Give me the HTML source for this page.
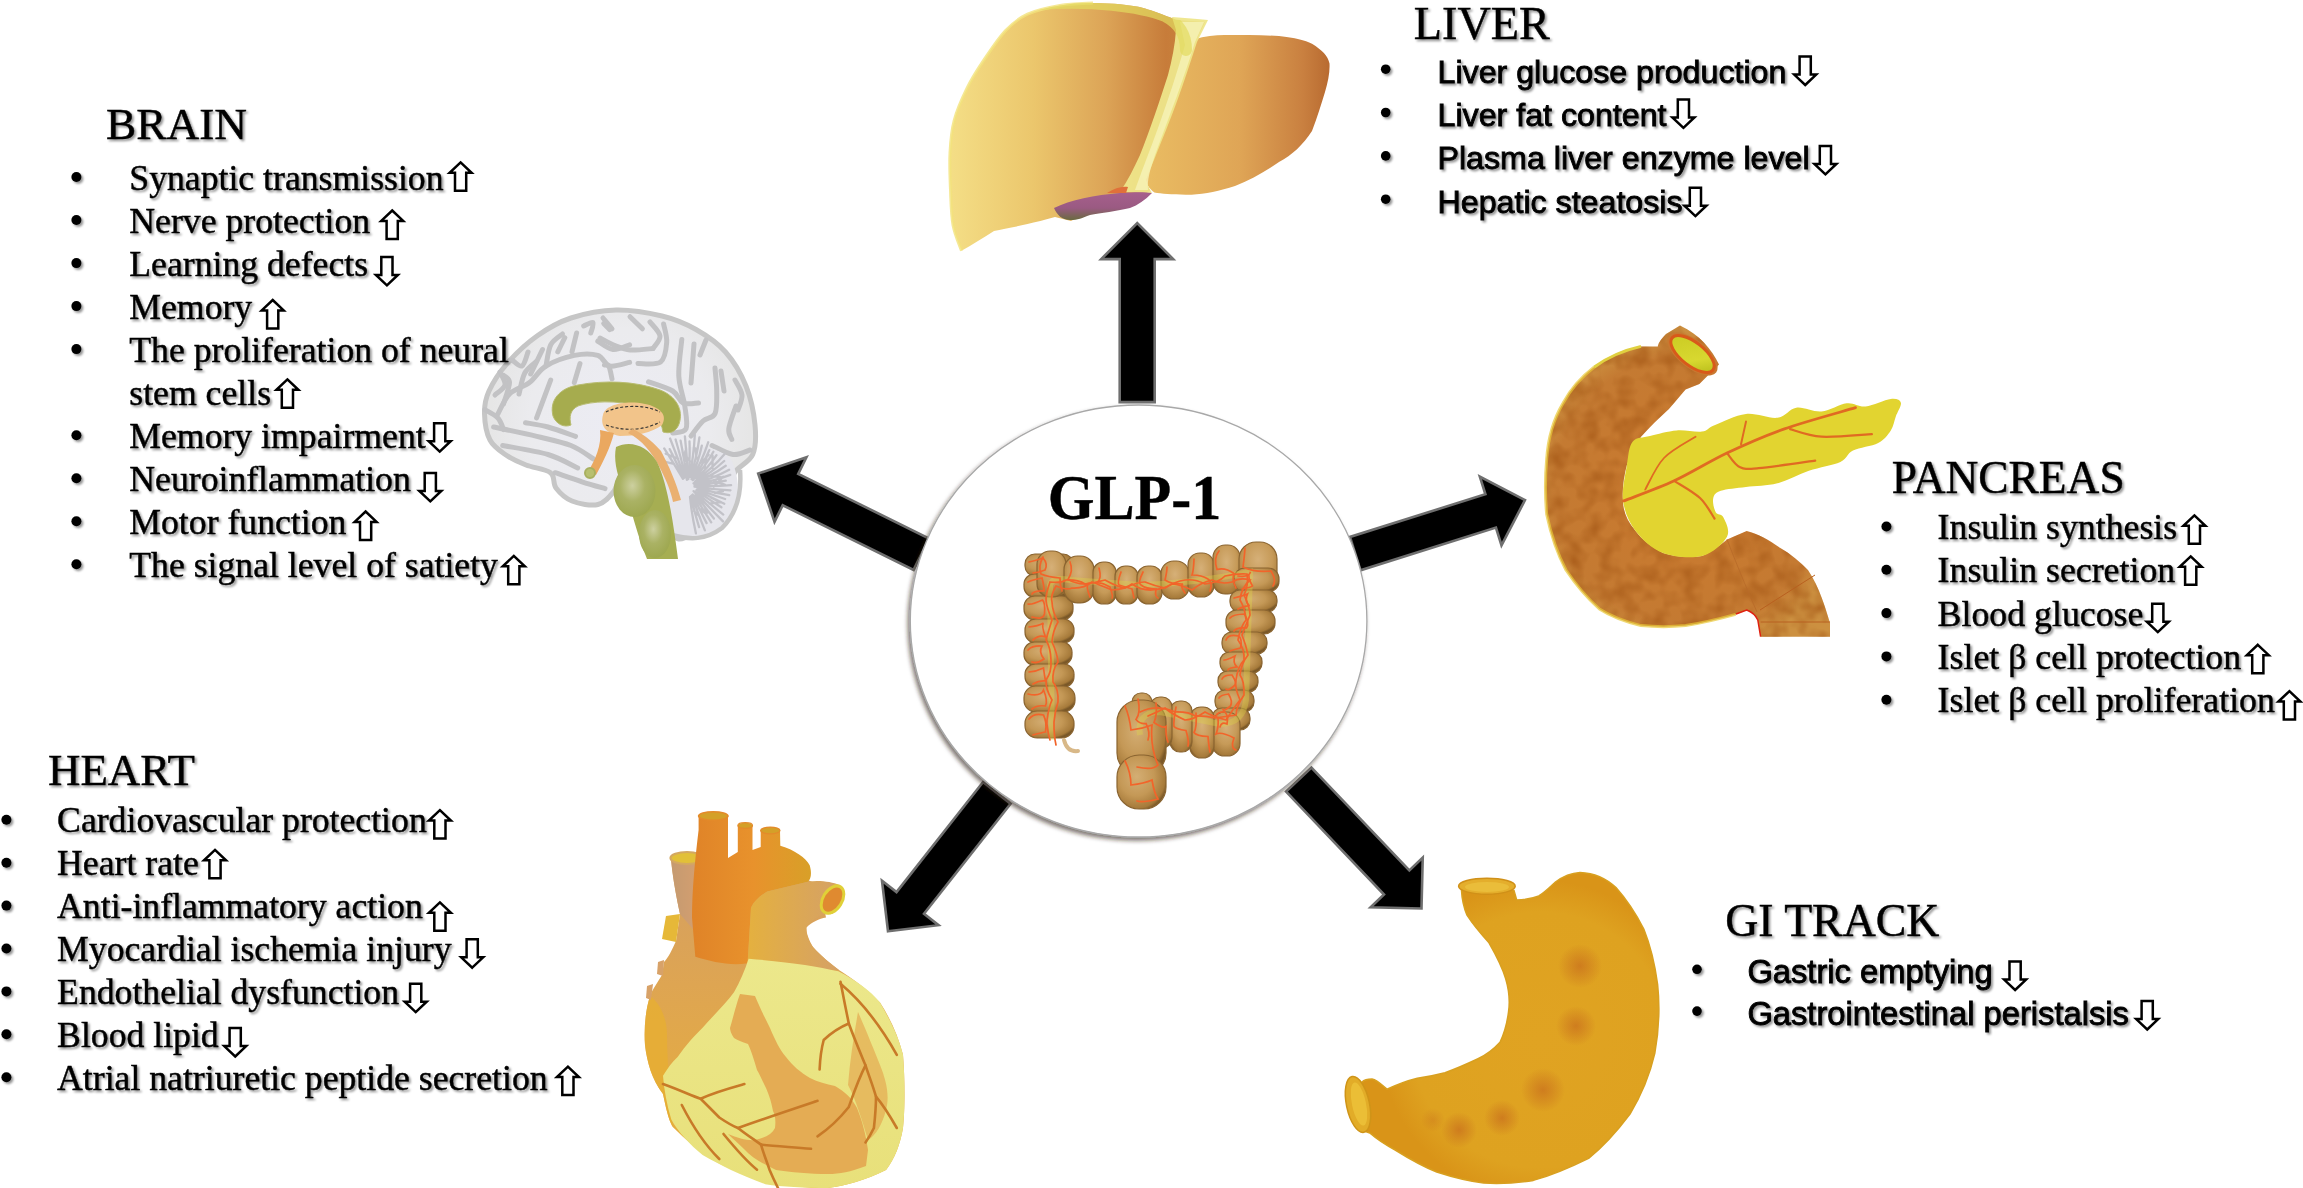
<!DOCTYPE html>
<html><head><meta charset="utf-8"><style>
html,body{margin:0;padding:0;background:#fff;width:2303px;height:1188px;overflow:hidden}
svg{position:absolute;left:0;top:0;display:block}
.sf{font-family:"Liberation Serif",serif;fill:#000;stroke:#000;stroke-width:0.45px}
.ss{font-family:"Liberation Sans",sans-serif;fill:#000;stroke:#000;stroke-width:0.9px}
.bul{fill:#000}
.ha{fill:#fff;stroke:#000;stroke-width:2.5;stroke-linejoin:miter}
.ba{fill:#000;stroke:#6f6f6f;stroke-width:2.6;stroke-linejoin:miter}
</style></head><body>
<svg width="2303" height="1188" viewBox="0 0 2303 1188">
<defs>
<filter id="tsh" x="-5%" y="-5%" width="110%" height="110%"><feDropShadow dx="1.9" dy="1.9" stdDeviation="0.8" flood-color="#000" flood-opacity="0.42"/></filter>
<filter id="csh" x="-10%" y="-10%" width="120%" height="120%"><feDropShadow dx="-2" dy="3" stdDeviation="2.2" flood-color="#2a1a10" flood-opacity="0.6"/></filter>
</defs>
<path transform="translate(1137.2,223.1) rotate(-90)" d="M0 0 L-36 -36 L-36 -17.5 L-179 -17.5 L-179 17.5 L-36 17.5 L-36 36 Z" class="ba"/><path transform="translate(758.2,473.6) rotate(206.3)" d="M0 0 L-36 -36 L-36 -17.5 L-182 -17.5 L-182 17.5 L-36 17.5 L-36 36 Z" class="ba"/><path transform="translate(1525,500.1) rotate(-17.5)" d="M0 0 L-36 -36 L-36 -17.5 L-178 -17.5 L-178 17.5 L-36 17.5 L-36 36 Z" class="ba"/><path transform="translate(888,931.2) rotate(128.2)" d="M0 0 L-36 -36 L-36 -17.5 L-176 -17.5 L-176 17.5 L-36 17.5 L-36 36 Z" class="ba"/><path transform="translate(1421.5,908.5) rotate(46.4)" d="M0 0 L-36 -36 L-36 -17.5 L-178 -17.5 L-178 17.5 L-36 17.5 L-36 36 Z" class="ba"/>
<ellipse cx="1138.6" cy="621" rx="228.3" ry="216" fill="#fff" stroke="#a8a8a8" stroke-width="1.3" filter="url(#csh)"/>
<g id="liver">
<defs>
<linearGradient id="lvL" x1="950" y1="0" x2="1190" y2="0" gradientUnits="userSpaceOnUse">
<stop offset="0" stop-color="#f4de86"/><stop offset="0.35" stop-color="#ebc66c"/><stop offset="0.65" stop-color="#dca457"/><stop offset="0.9" stop-color="#c77c3a"/><stop offset="1" stop-color="#c8843e"/>
</linearGradient>
<linearGradient id="lvR" x1="1150" y1="0" x2="1330" y2="0" gradientUnits="userSpaceOnUse">
<stop offset="0" stop-color="#e9bb62"/><stop offset="0.5" stop-color="#dfa556"/><stop offset="0.85" stop-color="#c98040"/><stop offset="1" stop-color="#b86a30"/>
</linearGradient>
<linearGradient id="lvP" x1="0" y1="190" x2="0" y2="220" gradientUnits="userSpaceOnUse">
<stop offset="0" stop-color="#a8608e"/><stop offset="0.6" stop-color="#9a5a82"/><stop offset="1" stop-color="#6a6a40"/>
</linearGradient>
<clipPath id="lvClip"><path d="M961.5 250.8 C960.1 246.5 954.8 235.1 953.0 225.0 C951.2 214.9 951.0 202.0 950.5 190.0 C950.0 178.0 949.4 164.6 950.0 153.0 C950.6 141.4 951.3 131.3 954.2 120.4 C957.1 109.5 962.5 97.5 967.4 87.5 C972.3 77.5 977.4 69.7 983.8 60.2 C990.2 50.7 998.3 38.3 1005.6 30.6 C1012.9 22.9 1018.4 18.4 1027.5 14.2 C1036.6 10.0 1049.1 7.4 1060.0 5.5 C1070.9 3.6 1080.2 2.8 1093.0 3.0 C1105.8 3.2 1123.2 3.8 1137.0 6.6 C1150.8 9.4 1169.5 17.5 1176.0 19.7 L1205 21.9 L1196 41.6 C1192 52 1189 60 1187 65.6 C1181 80 1175 95 1169.8 109.4 C1162 127 1155 140 1150 153 C1146 163 1142 170 1141 175 L1150 190.4 C1140 198 1130 205 1093 212 C1085 214 1078 217 1071 221 L1055 217 C1045 220 1035 222 1027.5 224 C1015 227 1003 229 994 231 C983 238 972 245 961.5 250.8 Z"/></clipPath>
</defs>
<path d="M961.5 250.8 C960.1 246.5 954.8 235.1 953.0 225.0 C951.2 214.9 951.0 202.0 950.5 190.0 C950.0 178.0 949.4 164.6 950.0 153.0 C950.6 141.4 951.3 131.3 954.2 120.4 C957.1 109.5 962.5 97.5 967.4 87.5 C972.3 77.5 977.4 69.7 983.8 60.2 C990.2 50.7 998.3 38.3 1005.6 30.6 C1012.9 22.9 1018.4 18.4 1027.5 14.2 C1036.6 10.0 1049.1 7.4 1060.0 5.5 C1070.9 3.6 1080.2 2.8 1093.0 3.0 C1105.8 3.2 1123.2 3.8 1137.0 6.6 C1150.8 9.4 1169.5 17.5 1176.0 19.7 L1205 21.9 L1196 41.6 C1192 52 1189 60 1187 65.6 C1181 80 1175 95 1169.8 109.4 C1162 127 1155 140 1150 153 C1146 163 1142 170 1141 175 L1150 190.4 C1140 198 1130 205 1093 212 C1085 214 1078 217 1071 221 L1055 217 C1045 220 1035 222 1027.5 224 C1015 227 1003 229 994 231 C983 238 972 245 961.5 250.8 Z" fill="url(#lvL)"/>
<path d="M1194 39.4 C1205 36 1215 35 1224.5 35 C1245 35 1262 35 1279 36 C1295 38 1305 40 1312 43.8 C1322 50 1328 56 1329.5 63.5 C1330 72 1328 82 1325 92 C1321 105 1317 118 1312 131 C1303 145 1292 155 1279 162 C1265 172 1250 180 1235 186 C1220 191 1205 194 1191.6 194.7 C1175 195 1162 194 1154.4 192.6 C1149 188 1146 184 1145.7 179.4 C1150 165 1154 152 1158.8 142 C1164 127 1170 112 1176 98.5 C1182 80 1188 60 1194 39.4 Z" fill="url(#lvR)"/>
<path d="M1172 17 C1185 18 1198 19 1208 20 L1197 42 C1188 70 1178 100 1168 125 C1158 150 1150 170 1146 180 C1148 186 1150 190 1152 193 L1120 192 C1128 180 1134 168 1140 155 C1150 130 1160 100 1168 75 C1172 60 1175 45 1176 30 Z" fill="#eee68a" opacity="0.95"/>
<path d="M1180 22 L1204 22 L1195 42 C1185 75 1170 115 1155 155 C1150 170 1147 180 1148 190 L1135 190 C1142 170 1150 150 1158 128 C1168 100 1178 70 1185 45 Z" fill="#f6f2b8" opacity="0.8"/>
<path d="M1054 208 C1070 200 1095 195 1120 193 C1135 192 1145 192 1152 193 C1145 200 1138 205 1130 208 C1118 211 1100 213 1090 215 C1082 218 1078 220 1070 220 C1062 220 1057 215 1054 208 Z" fill="url(#lvP)"/>
<path d="M1107 193 C1115 188 1122 186 1128 187 L1126 193 Z" fill="#e0703a"/>
<path d="M961.5 250.8 C960.1 246.5 954.8 235.1 953.0 225.0 C951.2 214.9 951.0 202.0 950.5 190.0 C950.0 178.0 949.4 164.6 950.0 153.0 C950.6 141.4 951.3 131.3 954.2 120.4 C957.1 109.5 962.5 97.5 967.4 87.5 C972.3 77.5 977.4 69.7 983.8 60.2 C990.2 50.7 998.3 38.3 1005.6 30.6 C1012.9 22.9 1018.4 18.4 1027.5 14.2 C1036.6 10.0 1049.1 7.4 1060.0 5.5 C1070.9 3.6 1087.5 3.4 1093.0 3.0" fill="none" stroke="#f2e27c" stroke-width="3" opacity="0.8"/>
<path clip-path="url(#lvClip)" d="M1040 4 C1090 0 1140 6 1165 16 C1180 24 1186 35 1186 50" fill="none" stroke="#e2dc60" stroke-width="12" stroke-linecap="round" opacity="0.7"/>

</g>
<g id="stomach">
<defs>
<radialGradient id="stG" cx="1540" cy="1040" r="160" gradientUnits="userSpaceOnUse">
<stop offset="0" stop-color="#e0a322"/><stop offset="0.8" stop-color="#dea220"/><stop offset="1" stop-color="#d99418"/>
</radialGradient>
<radialGradient id="spot"><stop offset="0" stop-color="#c4641c" stop-opacity="0.6"/><stop offset="1" stop-color="#c0601c" stop-opacity="0"/></radialGradient>
</defs>
<path d="M1461.5 890.4 C1462 900 1464 908 1467 915.2 C1474 926 1481 934 1489 942.8 C1496 955 1502 966 1505.7 978.8 C1509 990 1510 1002 1508.5 1012 C1507 1024 1504 1034 1500 1042.3 C1493 1050 1486 1055 1478 1058.8 C1467 1064 1456 1069 1445 1072.7 C1436 1075 1426 1077 1417.3 1078.2 C1406 1081 1396 1085 1387 1089.2 C1381 1084 1377 1080 1372 1079 C1368 1079 1364 1080 1362 1082 L1358 1128 C1362 1130 1367 1132 1370.4 1133.4 C1378 1140 1386 1145 1395.2 1150 C1408 1158 1422 1166 1436.7 1172 C1452 1177 1468 1181 1483.6 1183 C1500 1184 1517 1183 1533.3 1180.4 C1553 1175 1571 1167 1588.6 1158.3 C1604 1146 1618 1130 1630 1114 C1642 1094 1650 1074 1654.8 1053.3 C1659 1030 1660 1007 1657.6 984.3 C1655 965 1651 947 1643.8 929 C1636 914 1627 900 1616 887.6 C1606 878 1594 873 1580 872.4 C1570 873 1562 877 1555.4 882 C1550 887 1545 892 1538.8 896 C1531 899 1524 900 1516.7 900 L1514 890.4 Z" fill="url(#stG)" stroke="#d8a020" stroke-width="1.5"/>
<ellipse cx="1486.9" cy="886.2" rx="28.3" ry="8" fill="#e4ae2c" stroke="#d09018" stroke-width="1.5"/>
<ellipse cx="1487" cy="887" rx="22" ry="5" fill="#eabd3a"/>
<ellipse cx="1358" cy="1104.4" rx="11.5" ry="28.5" transform="rotate(-12 1358 1104.4)" fill="#e2ac28" stroke="#cf9418" stroke-width="1.5"/>
<ellipse cx="1359" cy="1104" rx="7" ry="22" transform="rotate(-12 1359 1104)" fill="#ebbe36"/>
<circle cx="1580" cy="966" r="22" fill="url(#spot)"/>
<circle cx="1576" cy="1026" r="20" fill="url(#spot)"/>
<circle cx="1543" cy="1090" r="22" fill="url(#spot)"/>
<circle cx="1502" cy="1118" r="18" fill="url(#spot)"/>
<circle cx="1459" cy="1130" r="18" fill="url(#spot)"/>
<circle cx="1433" cy="1120" r="12" fill="url(#spot)" opacity="0.5"/>
</g>
<g id="pancreas">
<defs>
<radialGradient id="pcB" cx="1690" cy="490" r="160" gradientUnits="userSpaceOnUse">
<stop offset="0.4" stop-color="#c87a30"/><stop offset="0.85" stop-color="#c47a32"/><stop offset="1" stop-color="#cc9040"/>
</radialGradient>
<linearGradient id="pcO" x1="1670" y1="335" x2="1715" y2="375" gradientUnits="userSpaceOnUse">
<stop offset="0" stop-color="#c8c820"/><stop offset="0.6" stop-color="#d8d830"/><stop offset="1" stop-color="#a8b010"/>
</linearGradient>
<filter id="pcTex" x="0" y="0" width="100%" height="100%" color-interpolation-filters="sRGB">
<feTurbulence type="fractalNoise" baseFrequency="0.06" numOctaves="2" seed="3" result="n"/>
<feColorMatrix in="n" type="matrix" values="0 0 0 0 0.66  0 0 0 0 0.36  0 0 0 0 0.1  0 0 0 1.6 -0.6" result="c"/>
<feComposite in="c" in2="SourceGraphic" operator="in" result="t"/>
<feMerge><feMergeNode in="SourceGraphic"/><feMergeNode in="t"/></feMerge>
</filter>
</defs>
<path d="M1666 333.9 C1660 340 1658 344 1657.8 346.4 L1641 346.4 C1625 350 1608 357 1594 367.2 C1580 378 1570 390 1563 403.3 C1553 420 1548 440 1546.7 458.9 C1545 478 1545 496 1546.7 514.4 C1551 535 1557 553 1566 570 C1576 585 1587 598 1599.4 608.9 C1612 617 1627 622 1641 625.6 C1656 627 1671 627 1685.6 625.6 C1702 623 1719 619 1735.6 614.4 L1746.7 610 C1752 612 1756 616 1757.8 620 L1760.6 636.7 L1830 636.7 L1830 622.8 C1827 614 1825 606 1821.7 597.8 C1818 588 1814 579 1808 570 C1800 562 1791 554 1780 547.8 C1769 540 1758 534 1746.7 531 L1727 539.4 C1718 547 1710 552 1702 556 C1689 558 1676 557 1663 553 C1652 547 1642 540 1635.6 531 C1627 521 1623 511 1623 500.5 C1622 488 1624 476 1627 464.4 C1631 455 1635 446 1641 436.7 C1650 427 1659 418 1669 409 L1685.6 389.4 L1699.4 384 L1719 364.4 C1712 350 1700 335 1680 325.6 Z" fill="url(#pcB)" filter="url(#pcTex)"/>
<path d="M1594 367.2 C1580 378 1570 390 1563 403.3 C1553 420 1548 440 1546.7 458.9 C1545 478 1545 496 1546.7 514.4 C1551 535 1557 553 1566 570 C1576 585 1587 598 1599.4 608.9 C1612 617 1627 622 1641 625.6 C1656 627 1671 627 1685.6 625.6 C1702 623 1719 619 1735.6 614.4" fill="none" stroke="#e8c838" stroke-width="3" opacity="0.7"/>
<path d="M1641 346.4 C1625 350 1608 357 1594 367.2" fill="none" stroke="#e0d040" stroke-width="3"/>
<path d="M1736 614 L1746.7 610 C1752 612 1756 616 1757.8 620 L1760.6 636.7" fill="none" stroke="#e02010" stroke-width="1.5"/>
<path d="M1760.6 622 L1830 622" stroke="#b86020" stroke-width="1" fill="none"/>
<path d="M1760 610 L1815 575" stroke="#b86020" stroke-width="1" fill="none"/>
<path d="M1727 539.4 C1735 560 1745 585 1757 612" stroke="#b86a28" stroke-width="0.8" fill="none"/>
<ellipse cx="1692.5" cy="354" rx="30" ry="14" transform="rotate(38 1692.5 354)" fill="#c87830"/><ellipse cx="1692.5" cy="354" rx="26" ry="11.5" transform="rotate(38 1692.5 354)" fill="url(#pcO)" stroke="#d85a1a" stroke-width="3"/>
<path d="M1632.6 441.7 C1636.4 437.0 1642.7 437.9 1650.0 436.0 C1657.3 434.1 1668.0 431.1 1676.7 430.4 C1685.4 429.7 1695.6 432.5 1701.9 431.6 C1708.2 430.8 1707.2 428.2 1714.5 425.3 C1721.8 422.4 1735.5 415.2 1746.0 414.0 C1756.5 412.8 1769.0 418.9 1777.4 417.8 C1785.8 416.8 1789.0 408.8 1796.3 407.7 C1803.6 406.6 1813.1 412.2 1821.5 411.5 C1829.9 410.8 1839.4 404.2 1846.7 403.3 C1854.0 402.4 1858.2 407.1 1865.6 406.4 C1872.9 405.7 1884.9 399.5 1890.8 398.9 C1896.7 398.3 1900.1 399.8 1900.9 402.7 C1901.7 405.6 1897.5 411.9 1895.8 416.5 C1894.1 421.1 1893.7 426.0 1890.8 430.4 C1887.9 434.8 1884.5 439.6 1878.2 443.0 C1871.9 446.4 1859.3 447.4 1853.0 450.5 C1846.7 453.6 1847.8 458.5 1840.4 461.9 C1833.1 465.3 1819.4 467.1 1808.9 470.7 C1798.4 474.3 1787.9 480.6 1777.4 483.3 C1766.9 486.0 1755.4 485.8 1746.0 487.0 C1736.6 488.2 1726.3 488.9 1720.8 490.8 C1715.3 492.7 1714.0 494.8 1713.2 498.4 C1712.4 502.0 1714.0 509.1 1715.7 512.2 C1717.4 515.4 1721.4 513.2 1723.3 517.3 C1725.2 521.4 1730.5 530.2 1727.0 536.7 C1723.5 543.2 1712.7 553.3 1702.0 556.0 C1691.3 558.7 1674.1 557.2 1663.0 553.0 C1651.9 548.8 1642.3 539.8 1635.6 531.0 C1628.9 522.2 1624.4 511.6 1623.0 500.5 C1621.6 489.4 1625.4 474.2 1627.0 464.4 C1628.6 454.6 1628.8 446.4 1632.6 441.7 Z" fill="#e2d430"/>
<g fill="none" stroke="#e06a22" stroke-linecap="round"><path d="M1623.8 500.9 C1632.2 497.5 1657.0 488.8 1674.2 480.8 C1691.4 472.8 1708.8 461.6 1727.0 453.0 C1745.2 444.4 1762.3 436.7 1783.7 429.1 C1805.1 421.6 1843.5 411.3 1855.5 407.7" stroke-width="2.8"/><path d="M1790.0 429.1 C1795.2 430.4 1807.8 435.9 1821.5 436.7 C1835.2 437.5 1863.5 434.6 1871.9 434.2" stroke-width="2.2"/><path d="M1727.0 453.0 C1729.1 455.3 1734.3 464.4 1739.6 466.9 C1744.8 469.4 1745.9 469.2 1758.5 468.2 C1771.1 467.1 1805.8 461.9 1815.2 460.6" stroke-width="2.2"/><path d="M1741.0 444.2 C1741.8 440.4 1745.2 425.4 1746.0 421.6" stroke-width="2.0"/><path d="M1674.2 480.8 C1678.5 483.7 1693.3 491.7 1700.0 498.0 C1706.7 504.3 1712.1 515.1 1714.5 518.5" stroke-width="2.2"/><path d="M1645.2 489.6 C1648.3 484.3 1655.6 466.8 1664.0 458.0 C1672.4 449.2 1690.3 440.2 1695.6 436.7" stroke-width="1.8"/></g>
</g>
<g id="heart">
<defs>
<linearGradient id="htBody" x1="0" y1="880" x2="0" y2="1180" gradientUnits="userSpaceOnUse">
<stop offset="0" stop-color="#d6a060"/><stop offset="0.35" stop-color="#dea552"/><stop offset="1" stop-color="#e8b038"/>
</linearGradient>
<linearGradient id="htAo" x1="695" y1="0" x2="812" y2="0" gradientUnits="userSpaceOnUse">
<stop offset="0" stop-color="#e08428"/><stop offset="0.5" stop-color="#e8922c"/><stop offset="1" stop-color="#d8a028"/>
</linearGradient>
<linearGradient id="htPul" x1="750" y1="0" x2="845" y2="0" gradientUnits="userSpaceOnUse">
<stop offset="0" stop-color="#e4b040"/><stop offset="1" stop-color="#d4a068"/>
</linearGradient>
<linearGradient id="htSvc" x1="670" y1="0" x2="705" y2="0" gradientUnits="userSpaceOnUse">
<stop offset="0" stop-color="#c49a70"/><stop offset="1" stop-color="#d8a070"/>
</linearGradient>
<linearGradient id="htYel" x1="0" y1="950" x2="0" y2="1188" gradientUnits="userSpaceOnUse">
<stop offset="0" stop-color="#ece88c"/><stop offset="1" stop-color="#e8e07a"/>
</linearGradient>
</defs>
<path d="M671 860 C673 880 677 900 680 914 L676 941 C672 950 668 958 664 962 L662 975 C658 982 653 988 650 996 C645 1012 644 1030 645 1045 C647 1062 652 1080 663 1094 C666 1108 668 1118 672.5 1126.7 C686 1140 698 1150 711.7 1159.4 C728 1168 744 1175 760.7 1179 C782 1186 804 1188 828 1188 C845 1186 866 1180 886 1170 C895 1158 900 1145 903 1128 C905 1110 905 1080 903 1054.8 C898 1035 890 1018 880 1002.6 C868 990 852 978 839 970 C830 963 820 955 813 947 C809 940 806 933 806.4 927.4 C812 922 819 919 826 917.6 L819.5 885 C810 880 800 878 790 878 L770 880 L735 875 L703 860 Z" fill="url(#htBody)"/>
<path d="M650 996 C645 1012 644 1030 645 1045 C647 1062 652 1080 663 1094 C666 1108 668 1118 672.5 1126.7 C671 1100 667 1065 667 1035 C667 1018 660 1003 650 996 Z" fill="#e6ae34" opacity="0.85"/>
<path d="M671 858 C673 880 677 900 680 914 L698 935 L704 858 Z" fill="url(#htSvc)"/>
<ellipse cx="687" cy="858" rx="16.5" ry="6" fill="#e2c038" stroke="#d4a860" stroke-width="2.2"/>
<path d="M680 914 L666 916 L662 939 L676 942 Z" fill="#e6b838"/>
<path d="M664 960 L658 962 L657 974 L663 976 Z" fill="#d8a268"/>
<path d="M653 984 L647 986 L646 998 L651 1000 Z" fill="#d8a268"/>
<path d="M698.6 816 L728 816 L728 858 L737.8 852 L737.8 825 L752.5 825 L752.5 850 L760.7 847 L760.7 830 L780 830 L780.3 845.7 C795 850 806 858 809.7 865.3 C812 873 811 879 808 881.7 L767.2 891.5 C760 896 754 901 751 907.8 L747.6 963.3 C730 966 712 962 695.3 956.8 L692 917.6 C692 890 695 860 698.6 830 Z" fill="url(#htAo)"/>
<ellipse cx="713.3" cy="816" rx="14.7" ry="4.2" fill="#d4a028" stroke="#e48a2a" stroke-width="1.6"/>
<ellipse cx="745.2" cy="825.5" rx="7.3" ry="2.8" fill="#d4a028" stroke="#e48a2a" stroke-width="1.2"/>
<ellipse cx="770.3" cy="830.5" rx="9.7" ry="3.4" fill="#d4a028" stroke="#e48a2a" stroke-width="1.2"/>
<path d="M747.6 963.3 L751 907.8 C754 901 760 896 767.2 891.5 L808 881.7 C820 880 832 882 839 885 C845 895 842 908 832 914 L822.7 914.3 C815 918 810 922 806.4 927.4 C806 935 809 942 813 947 C822 957 832 965 839 970 C810 968 780 965 747.6 963.3 Z" fill="url(#htPul)"/>
<ellipse cx="832.5" cy="899.6" rx="9.5" ry="15" transform="rotate(32 832.5 899.6)" fill="#e08a30" stroke="#e0d038" stroke-width="3"/>
<path d="M748.6 958.8 C790 962 815 966 838.4 971.3 C855 980 870 990 880 1002.6 C890 1020 898 1035 903 1054.8 C905 1080 905 1110 903 1128 C900 1145 895 1158 886.4 1169.7 C866 1180 845 1186 828 1188 C804 1188 782 1187 765.3 1184.3 C740 1175 720 1165 702.6 1155 C690 1145 678 1132 671.3 1119.6 C667 1105 664 1090 663 1075.7 C668 1068 672 1062 677.6 1057 C686 1045 694 1036 702.6 1027.7 C714 1015 726 1003 734 992.2 C740 982 745 970 748.6 958.8 Z" fill="url(#htYel)"/>
<path d="M740 994 L755 996 C760 1008 765 1018 770 1028 C775 1040 780 1050 786 1057 C793 1066 800 1072 810 1078 C818 1082 826 1084 835 1086 C845 1092 852 1098 857 1108 C862 1120 866 1135 868 1150 L866 1166 C850 1172 840 1174 828 1174 C810 1174 790 1172 776 1170 C765 1165 752 1158 744 1149 C738 1143 732 1138 728 1134 C738 1138 748 1141 755 1140 C765 1138 772 1134 775 1128 C776 1120 775 1115 773 1111 C771 1100 768 1092 765 1086 C762 1080 760 1075 757 1070 C754 1060 751 1050 748 1044 C742 1042 737 1040 734 1038 C731 1034 730 1030 730 1028 C733 1018 736 1005 740 994 Z" fill="#e4ac54"/>
<path d="M858 1012 C866 1030 874 1050 880 1065 C886 1080 890 1095 886 1110 C882 1125 876 1135 868 1140 C862 1120 856 1100 848 1085 C850 1060 854 1035 858 1012 Z" fill="#e4ae54" opacity="0.75"/>

<g fill="none" stroke="#c87a28" stroke-width="2.6" stroke-linecap="round" stroke-linejoin="round">
<path d="M663 1084 C680 1090 692 1096 700.6 1098.7 C708 1106 714 1112 719.3 1117.5 C726 1122 732 1126 738 1128 C748 1136 755 1140 761 1144.6 C764 1155 767 1162 769.5 1169.7 C773 1178 776 1184 778 1188"/>
<path d="M700.6 1098.7 C715 1092 730 1088 744.4 1084"/>
<path d="M681.8 1105 C692 1125 705 1145 719.3 1159"/>
<path d="M738 1128 C760 1120 790 1110 817.5 1100.8"/>
<path d="M761 1144.6 C775 1146 790 1147 811 1148.8"/>
<path d="M723.5 1134 C735 1148 745 1160 757 1169.7"/>
<path d="M840.5 981.8 C843 995 846 1010 848.8 1023.5 C854 1038 860 1052 865.5 1065.3 C869 1076 873 1086 876 1096.6 C876 1108 875 1118 873.9 1128 C871 1134 868 1139 865.5 1142.5"/>
<path d="M848.8 1023.5 C838 1028 830 1034 823.7 1040 C821 1050 820 1060 819.6 1069.5"/>
<path d="M840.5 983.8 C860 1000 880 1025 896.8 1054.8"/>
<path d="M865.5 1065.3 C858 1080 853 1095 848.8 1107 C840 1118 830 1128 817.5 1136.3"/>
<path d="M876 1096.6 C884 1106 890 1116 896.8 1128"/>
</g>
</g>
<g id="brain">
<defs><radialGradient id="bsG" cx="0.45" cy="0.4" r="0.6"><stop offset="0" stop-color="#cdd0a0"/><stop offset="0.5" stop-color="#aab264"/><stop offset="1" stop-color="#9ea850"/></radialGradient>
<radialGradient id="brIn" cx="620" cy="420" r="130" gradientUnits="userSpaceOnUse"><stop offset="0" stop-color="#ececf4"/><stop offset="0.7" stop-color="#ebebee"/><stop offset="1" stop-color="#e6e6e6"/></radialGradient></defs>
<path d="M484.5 413.6 C484.3 405.4 485.2 399.3 489.0 391.0 C492.8 382.7 499.0 372.8 507.0 363.6 C515.0 354.4 526.3 343.6 537.0 336.0 C547.7 328.4 557.8 322.3 571.0 318.0 C584.2 313.7 600.8 310.3 616.0 310.0 C631.2 309.7 648.7 312.8 662.0 316.0 C675.3 319.2 685.4 323.5 696.0 329.5 C706.6 335.5 717.2 342.6 725.5 352.0 C733.8 361.4 741.1 373.8 746.0 386.0 C750.9 398.2 753.9 413.6 755.0 425.0 C756.1 436.4 756.1 446.6 752.7 454.5 C749.3 462.4 737.8 466.8 734.5 472.7 C731.2 478.6 734.1 483.8 733.0 490.0 C731.9 496.2 731.5 503.8 728.0 510.0 C724.5 516.2 718.3 522.7 712.0 527.0 C705.7 531.3 696.7 535.0 690.0 536.0 C683.3 537.0 678.7 544.0 672.0 533.0 C665.3 522.0 657.8 480.5 650.0 470.0 C642.2 459.5 631.0 466.5 625.0 470.0 C619.0 473.5 618.5 485.2 614.0 491.0 C609.5 496.8 605.0 502.8 598.0 504.5 C591.0 506.2 579.0 503.8 572.0 501.0 C565.0 498.2 559.6 492.7 556.0 488.0 C552.4 483.3 555.5 476.5 550.5 472.7 C545.5 468.9 533.4 467.9 526.0 465.0 C518.6 462.1 512.0 459.2 506.0 455.0 C500.0 450.8 493.6 446.9 490.0 440.0 C486.4 433.1 484.7 421.8 484.5 413.6 Z" fill="url(#brIn)" stroke="#c6c6c6" stroke-width="5"/>
<g fill="none" stroke="#c2c2c4" stroke-width="5" stroke-linecap="round" stroke-linejoin="round">
<path d="M600.0 338.0 C602.5 339.2 610.0 343.5 615.0 345.5 C620.0 347.5 623.7 349.5 630.0 350.0 C636.3 350.5 649.2 348.8 653.0 348.5"/>
<path d="M604.5 365.0 C605.2 365.3 607.8 364.4 609.0 366.7 C610.2 369.0 611.5 376.8 612.0 378.8"/>
<path d="M638.0 363.6 C641.8 363.3 655.8 365.5 660.6 362.0 C665.4 358.5 666.2 348.7 666.7 342.4 C667.2 336.1 664.1 327.1 663.6 324.0"/>
<path d="M681.8 339.4 C681.3 345.5 678.3 364.7 678.8 375.8 C679.3 386.9 683.6 397.2 684.8 406.0 C686.0 414.8 688.0 424.3 686.0 428.8 C684.0 433.3 674.9 432.3 672.7 433.0"/>
<path d="M694.0 344.0 C693.5 350.5 691.5 376.5 691.0 383.0"/>
<path d="M715.0 368.0 C715.3 371.8 716.7 383.4 716.7 391.0 C716.7 398.6 717.3 408.6 715.0 413.6 C712.7 418.6 707.0 417.3 703.0 421.0 C699.0 424.7 693.0 433.5 691.0 436.0"/>
<path d="M721.0 371.0 C721.5 374.3 723.5 387.7 724.0 391.0"/>
<path d="M736.0 406.0 C734.8 409.8 729.5 423.2 728.8 428.8 C728.1 434.4 731.3 437.6 731.8 439.4"/>
<path d="M712.0 445.5 C715.5 447.0 726.7 453.8 733.0 454.5 C739.3 455.2 747.2 450.8 750.0 450.0"/>
<path d="M648.5 381.8 C652.5 383.3 667.0 387.5 672.7 391.0 C678.5 394.5 678.7 401.0 683.0 403.0 C687.3 405.0 695.9 403.0 698.5 403.0"/>
<path d="M603.0 318.0 C604.5 319.8 610.5 327.0 612.0 328.8"/>
<path d="M630.0 316.7 C632.1 318.7 640.3 326.8 642.4 328.8"/>
<path d="M497.7 414.3 C499.7 410.9 504.2 399.3 509.5 394.0 C514.8 388.7 523.4 387.2 529.5 382.5 C535.6 377.8 538.5 370.5 546.0 366.0 C553.5 361.5 565.7 357.2 574.3 355.4 C582.9 353.6 591.9 353.6 597.8 355.4 C603.7 357.2 604.3 364.8 609.6 366.0 C614.9 367.2 626.3 363.0 629.6 362.4"/>
<path d="M503.6 403.7 C504.6 400.2 509.5 387.2 509.5 382.5 C509.5 377.8 504.6 376.6 503.6 375.4"/>
<path d="M519.0 394.0 C520.0 390.5 521.9 378.4 524.8 373.0 C527.7 367.6 534.6 363.2 536.6 361.3"/>
<path d="M530.7 374.0 C532.7 369.9 540.5 353.6 542.5 349.5"/>
<path d="M546.0 366.0 C546.8 362.5 548.0 350.1 550.7 344.8 C553.5 339.5 560.5 335.8 562.5 334.0"/>
<path d="M557.8 351.8 C559.0 349.4 563.6 340.1 564.8 337.7"/>
<path d="M572.0 351.8 C572.8 348.7 575.8 336.1 576.6 333.0"/>
<path d="M583.7 326.0 C585.2 325.4 591.8 321.2 593.0 322.4 C594.2 323.6 591.2 331.2 590.8 333.0"/>
<path d="M603.7 323.6 C604.7 324.6 608.6 328.5 609.6 329.5"/>
<path d="M597.8 341.2 C600.3 342.6 607.7 348.9 613.0 349.5 C618.3 350.1 626.8 345.6 629.6 344.8"/>
<path d="M580.0 363.6 C579.0 366.8 575.2 379.4 574.3 382.5"/>
<path d="M550.7 380.0 C548.4 386.3 539.0 411.5 536.6 417.8"/>
<path d="M484.7 409.6 C486.9 411.0 494.5 414.5 497.7 417.8 C500.9 421.1 502.6 427.6 503.6 429.6"/>
<path d="M493.6 427.0 C500.8 428.6 523.9 433.3 536.8 436.4 C549.7 439.5 561.5 441.7 571.0 445.5 C580.5 449.3 589.8 456.8 593.6 459.0"/>
<path d="M502.7 445.5 C510.2 447.0 535.5 450.8 548.0 454.5 C560.5 458.2 572.8 465.8 577.7 468.0"/>
<path d="M555.0 472.7 C559.5 474.2 573.7 479.1 582.0 481.8 C590.3 484.5 601.2 487.5 605.0 488.6"/>
<path d="M525.5 422.7 C529.2 423.4 539.7 424.7 548.0 427.0 C556.3 429.3 570.9 434.8 575.5 436.4"/>
<path d="M495.0 395.0 C496.7 393.3 504.2 388.8 505.0 385.0 C505.8 381.2 500.8 374.2 500.0 372.0"/>
<path d="M512.0 360.0 C513.7 361.0 519.3 367.3 522.0 366.0 C524.7 364.7 527.0 354.3 528.0 352.0"/>
<path d="M653.0 348.5 C654.2 346.4 660.5 340.4 660.0 336.0 C659.5 331.6 651.7 324.3 650.0 322.0"/>
<path d="M735.0 380.0 C736.2 382.5 741.5 390.0 742.0 395.0 C742.5 400.0 738.7 407.5 738.0 410.0"/>
<path d="M700.0 355.0 C701.0 352.5 705.0 342.5 706.0 340.0"/>
</g>
<path d="M660 470 C668 445 705 438 730 458 C742 478 740 510 725 528 C708 542 680 542 668 530 C660 515 658 490 660 470 Z" fill="#e6e6ec"/>
<path d="M683.0 478.8 Q674.0 463.8 664.2 448.4 M674.0 463.8 L663.1 461.4 M682.6 476.2 Q676.8 462.9 669.7 449.1 M684.5 477.7 Q678.2 458.7 670.1 438.5 M678.2 458.7 L665.7 453.7 M685.4 477.1 Q681.5 459.0 675.6 439.5 M686.9 479.9 Q684.8 461.2 680.6 440.7 M684.8 461.2 L685.3 451.1 M687.4 477.3 Q687.4 458.0 684.9 436.5 M688.3 479.1 Q690.2 461.4 689.5 441.5 M690.2 461.4 L682.7 452.5 M689.3 477.1 Q693.7 457.4 694.8 434.9 M690.4 476.8 Q696.6 458.7 699.4 437.5 M696.6 458.7 L695.5 448.5 M691.7 476.2 Q698.3 462.4 701.8 445.7 M691.5 479.1 Q701.6 462.4 708.2 442.3 M701.6 462.4 L708.6 454.8 M692.7 478.9 Q702.5 466.0 709.3 450.1 M692.8 480.1 Q704.7 467.6 713.4 451.8 M704.7 467.6 L706.4 457.8 M695.8 478.4 Q707.8 468.5 716.5 455.1 M696.9 479.0 Q712.5 468.6 724.4 454.3 M712.5 468.6 L712.6 455.7 M695.0 481.6 Q711.2 473.1 724.2 461.0 M693.5 483.3 Q711.2 476.2 725.8 465.8 M711.2 476.2 L722.3 477.3 M694.3 483.8 Q713.2 478.4 729.1 469.8 M694.5 484.4 Q713.8 481.2 730.3 474.9 M713.8 481.2 L724.6 484.7 M695.2 485.1 Q711.6 484.2 725.8 480.7 M694.5 485.9 Q713.9 486.8 731.1 485.2 M713.9 486.8 L723.1 476.7 M694.5 486.6 Q713.5 489.6 730.5 490.3 M699.3 488.3 Q715.0 492.9 729.2 495.2 M715.0 492.9 L723.0 491.2 M697.4 489.0 Q711.8 494.9 725.1 499.0 M696.7 489.8 Q710.9 497.5 724.3 503.7 M710.9 497.5 L717.8 501.1 M698.2 491.9 Q710.0 500.2 721.4 507.3 M695.5 491.5 Q709.5 503.5 723.3 514.6 M709.5 503.5 L721.1 502.2 M693.6 491.1 Q708.3 506.4 723.0 521.4 M695.9 495.0 Q704.6 506.8 713.9 518.5 M704.6 506.8 L707.2 512.8 M694.7 495.6 Q702.5 508.8 711.2 522.4 M692.7 494.5 Q699.0 508.5 706.6 523.1 M699.0 508.5 L705.5 513.2 M691.9 495.3 Q697.5 512.3 704.9 530.4 M691.0 496.2 Q694.1 511.0 699.1 527.1 M694.1 511.0 L699.7 516.5 M690.0 497.0 Q691.7 514.3 695.9 533.3" fill="none" stroke="#c2c2c8" stroke-width="2.3" stroke-linecap="round"/>
<path d="M740 470 C742 495 735 515 722 528 C706 540 690 540 672 535" fill="none" stroke="#c6c6c6" stroke-width="4.5"/>
<!-- corpus callosum -->
<path d="M553 416 C549 400 560 388 578 385 C605 380 635 381 660 390 C676 396 684 410 679 424 C676 432 670 434 663 432 C661 420 655 410 640 406 C615 400 592 401 578 406 C570 410 569 417 571 425 C564 428 556 424 553 416 Z" fill="#a6ac4e" stroke="#b8bc70" stroke-width="1"/>
<path d="M603 415 C605 405 625 400 645 404 C660 407 668 415 662 425 C652 433 635 436 620 436 C605 433 600 425 603 415 Z" fill="#f2c48a"/>
<path d="M606 412 C620 405 645 404 660 412" fill="none" stroke="#333" stroke-width="1.1" stroke-dasharray="3,2"/>
<path d="M606 425 C625 432 645 430 660 422" fill="none" stroke="#333" stroke-width="1.1" stroke-dasharray="3,2"/>
<path d="M600 430 C602 445 595 460 588 472 L596 475 C604 460 610 448 614 433 Z" fill="#eaa860"/>
<path d="M628 433 C642 440 652 452 661 470 C667 482 671 492 673 502 L681 500 C676 482 669 466 661 451 C651 440 641 432 632 429 Z" fill="#eab070"/>
<circle cx="590" cy="473" r="5" fill="#b8c070" stroke="#a8b060" stroke-width="2"/>
<path d="M616 447 C630 440 647 445 657 462 C667 482 673 520 678 559 L647 559 C639 540 634 520 628 500 C618 480 613 462 616 447 Z" fill="#a6ae52"/>
<ellipse cx="634.5" cy="491" rx="21" ry="26" fill="url(#bsG)"/>
<ellipse cx="655" cy="534" rx="16" ry="24" fill="url(#bsG)"/>
</g><g id="colon"><defs>
<radialGradient id="cSeg" cx="0.4" cy="0.4" r="0.65"><stop offset="0" stop-color="#d4ae74"/><stop offset="0.55" stop-color="#c49856"/><stop offset="0.9" stop-color="#a67a3a"/><stop offset="1" stop-color="#7a5828"/></radialGradient>
<radialGradient id="cSegH" cx="0.5" cy="0.35" r="0.7"><stop offset="0" stop-color="#d6b078"/><stop offset="0.55" stop-color="#c69a58"/><stop offset="0.9" stop-color="#a67a3a"/><stop offset="1" stop-color="#7a5828"/></radialGradient>
</defs>
<rect x="1025" y="554" width="48" height="22" rx="9.9" ry="9.9" fill="url(#cSeg)" stroke="#8a6430" stroke-width="1.2"/>
<rect x="1024" y="574" width="48" height="23" rx="10.3" ry="10.3" fill="url(#cSeg)" stroke="#8a6430" stroke-width="1.2"/>
<rect x="1024" y="596" width="49" height="24" rx="10.8" ry="10.8" fill="url(#cSeg)" stroke="#8a6430" stroke-width="1.2"/>
<rect x="1025" y="619" width="49" height="24" rx="10.8" ry="10.8" fill="url(#cSeg)" stroke="#8a6430" stroke-width="1.2"/>
<rect x="1024" y="642" width="48" height="23" rx="10.3" ry="10.3" fill="url(#cSeg)" stroke="#8a6430" stroke-width="1.2"/>
<rect x="1025" y="664" width="49" height="23" rx="10.3" ry="10.3" fill="url(#cSeg)" stroke="#8a6430" stroke-width="1.2"/>
<rect x="1024" y="686" width="51" height="26" rx="11.7" ry="11.7" fill="url(#cSeg)" stroke="#8a6430" stroke-width="1.2"/>
<rect x="1025" y="711" width="49" height="27" rx="12.2" ry="12.2" fill="url(#cSeg)" stroke="#8a6430" stroke-width="1.2"/>
<rect x="1037" y="551" width="29" height="46" rx="13.1" ry="13.1" fill="url(#cSegH)" stroke="#8a6430" stroke-width="1.2"/>
<rect x="1064" y="556" width="30" height="47" rx="13.5" ry="13.5" fill="url(#cSegH)" stroke="#8a6430" stroke-width="1.2"/>
<rect x="1093" y="562" width="23" height="42" rx="10.3" ry="10.3" fill="url(#cSegH)" stroke="#8a6430" stroke-width="1.2"/>
<rect x="1115" y="566" width="23" height="38" rx="10.3" ry="10.3" fill="url(#cSegH)" stroke="#8a6430" stroke-width="1.2"/>
<rect x="1137" y="566" width="25" height="38" rx="11.2" ry="11.2" fill="url(#cSegH)" stroke="#8a6430" stroke-width="1.2"/>
<rect x="1161" y="561" width="28" height="38" rx="12.6" ry="12.6" fill="url(#cSegH)" stroke="#8a6430" stroke-width="1.2"/>
<rect x="1188" y="553" width="26" height="44" rx="11.7" ry="11.7" fill="url(#cSegH)" stroke="#8a6430" stroke-width="1.2"/>
<rect x="1213" y="545" width="27" height="49" rx="12.2" ry="12.2" fill="url(#cSegH)" stroke="#8a6430" stroke-width="1.2"/>
<rect x="1239" y="542" width="38" height="50" rx="17.1" ry="17.1" fill="url(#cSegH)" stroke="#8a6430" stroke-width="1.2"/>
<rect x="1234" y="568" width="45" height="24" rx="10.8" ry="10.8" fill="url(#cSeg)" stroke="#8a6430" stroke-width="1.2"/>
<rect x="1230" y="590" width="47" height="22" rx="9.9" ry="9.9" fill="url(#cSeg)" stroke="#8a6430" stroke-width="1.2"/>
<rect x="1226" y="610" width="49" height="24" rx="10.8" ry="10.8" fill="url(#cSeg)" stroke="#8a6430" stroke-width="1.2"/>
<rect x="1222" y="632" width="45" height="22" rx="9.9" ry="9.9" fill="url(#cSeg)" stroke="#8a6430" stroke-width="1.2"/>
<rect x="1220" y="652" width="42" height="21" rx="9.5" ry="9.5" fill="url(#cSeg)" stroke="#8a6430" stroke-width="1.2"/>
<rect x="1218" y="671" width="40" height="21" rx="9.5" ry="9.5" fill="url(#cSeg)" stroke="#8a6430" stroke-width="1.2"/>
<rect x="1215" y="690" width="39" height="22" rx="9.9" ry="9.9" fill="url(#cSeg)" stroke="#8a6430" stroke-width="1.2"/>
<rect x="1212" y="708" width="38" height="22" rx="9.9" ry="9.9" fill="url(#cSeg)" stroke="#8a6430" stroke-width="1.2"/>
<rect x="1212" y="712" width="28" height="44" rx="12.6" ry="12.6" fill="url(#cSegH)" stroke="#8a6430" stroke-width="1.2"/>
<rect x="1190" y="707" width="24" height="51" rx="10.8" ry="10.8" fill="url(#cSegH)" stroke="#8a6430" stroke-width="1.2"/>
<rect x="1170" y="701" width="22" height="51" rx="9.9" ry="9.9" fill="url(#cSegH)" stroke="#8a6430" stroke-width="1.2"/>
<rect x="1150" y="697" width="22" height="51" rx="9.9" ry="9.9" fill="url(#cSegH)" stroke="#8a6430" stroke-width="1.2"/>
<rect x="1132" y="693" width="20" height="53" rx="9.0" ry="9.0" fill="url(#cSegH)" stroke="#8a6430" stroke-width="1.2"/>
<rect x="1117" y="700" width="49" height="75" rx="22.1" ry="22.1" fill="url(#cSeg)" stroke="#8a6430" stroke-width="1.2"/>
<rect x="1117" y="755" width="49" height="54" rx="22.1" ry="22.1" fill="url(#cSeg)" stroke="#8a6430" stroke-width="1.2"/>
<path d="M1052 740 L1050 585 C1052 578 1060 578 1070 580 L1140 585 C1180 584 1220 578 1250 572 L1246 700 C1244 716 1236 724 1220 724 L1160 712 C1142 712 1138 722 1140 735" fill="none" stroke="#e0d848" stroke-width="6" opacity="0.35"/>
<g fill="none" stroke="#f2642a" stroke-width="1.7" stroke-linecap="round">
<path d="M1050 740 Q1046.4 726.8 1047 720 Q1048.7 707.2 1052 700 Q1045.5 689.2 1046 680 Q1051.8 672.4 1051 660 Q1050.6 647.8 1046 640 Q1049.3 628.2 1052 620 Q1046.4 606.8 1046 600 Q1045.7 594.4 1050 582 Q1060.6 583.5 1066 580 Q1077.9 579.5 1085 584 Q1093.5 583.0 1105 580 Q1116.9 586.8 1125 588 Q1138.0 581.7 1145 582 Q1155.8 586.4 1165 588 Q1175.0 581.4 1185 580 Q1194.8 578.7 1205 584 Q1218.5 582.9 1225 576 Q1236.4 573.4 1247 574 Q1248.8 585.1 1244 595 Q1250.1 607.8 1250 615 Q1246.1 624.3 1242 635 Q1245.8 644.4 1248 655 Q1241.3 663.4 1240 675 Q1244.5 681.3 1244 695 Q1236.4 706.0 1236 715 Q1223.7 716.8 1215 718 Q1204.8 715.7 1195 716 Q1189.0 711.6 1175 712 Q1164.3 707.6 1155 708 Q1148.6 708.2 1140 712"/>
<path d="M1056 745 Q1053.8 735.5 1054 722 Q1054.6 712.5 1058 702 Q1058.7 688.8 1053 682 Q1052.0 669.8 1058 662 Q1057.1 652.9 1052 642 Q1052.9 630.6 1058 622 Q1052.4 611.7 1052 602 Q1050.3 595.6 1056 586 Q1067.2 590.6 1072 588 Q1083.9 588.7 1092 582 Q1098.1 584.3 1112 590 Q1125.7 589.2 1132 584 Q1141.3 590.5 1152 590 Q1163.0 589.5 1172 584 Q1180.3 584.5 1192 590 Q1201.6 582.1 1212 580 Q1221.1 584.7 1232 582 Q1239.7 577.1 1250 580 Q1241.4 587.4 1240 600 Q1245.3 608.9 1246 620 Q1240.3 626.8 1238 640 Q1244.9 649.4 1244 660 Q1237.7 666.5 1236 680 Q1234.4 687.3 1240 700 Q1234.4 707.2 1226 720 Q1211.8 715.9 1205 712 Q1193.0 720.0 1185 720 Q1172.0 714.2 1165 708 Q1158.7 711.3 1148 716"/>
<path d="M1029 562 Q1035.5 560.6 1043.0 558 Q1048.2 563.7 1045.0 570 Q1039.1 572.4 1033 573"/>
<path d="M1028 582 Q1031.8 580.1 1042.0 578 Q1044.3 587.4 1044.0 591 Q1033.9 590.5 1032 594"/>
<path d="M1028 604 Q1031.2 605.1 1042.5 600 Q1045.4 602.4 1044.5 614 Q1043.1 620.1 1032 617"/>
<path d="M1029 627 Q1037.8 626.2 1043.5 623 Q1041.1 625.2 1045.5 637 Q1039.5 634.1 1033 640"/>
<path d="M1028 650 Q1031.9 645.4 1042.0 646 Q1038.3 652.1 1044.0 659 Q1037.4 663.9 1032 662"/>
<path d="M1029 672 Q1036.4 671.4 1043.5 668 Q1044.5 676.1 1045.5 681 Q1038.8 680.3 1033 684"/>
<path d="M1028 694 Q1040.7 697.0 1043.5 690 Q1047.9 700.1 1045.5 706 Q1036.9 704.8 1032 709"/>
<path d="M1029 719 Q1034.1 712.7 1043.5 715 Q1047.2 722.5 1045.5 732 Q1042.7 732.4 1033 735"/>
<path d="M1238 576 Q1248.8 577.5 1250.5 572 Q1246.5 576.1 1252.5 586 Q1251.4 587.2 1242 589"/>
<path d="M1234 598 Q1245.6 595.0 1247.5 594 Q1244.2 601.3 1249.5 606 Q1246.5 605.2 1238 609"/>
<path d="M1230 618 Q1233.1 614.3 1244.5 614 Q1250.1 623.6 1246.5 628 Q1236.4 627.0 1234 631"/>
<path d="M1226 640 Q1228.3 633.6 1238.5 636 Q1242.5 638.8 1240.5 648 Q1235.8 649.0 1230 651"/>
<path d="M1224 660 Q1226.4 660.3 1235.0 656 Q1232.3 662.9 1237.0 667 Q1228.7 667.7 1228 670"/>
<path d="M1222 679 Q1224.1 674.7 1232.0 675 Q1237.7 683.5 1234.0 686 Q1228.0 691.3 1226 689"/>
<path d="M1219 698 Q1220.9 694.9 1228.5 694 Q1233.0 701.4 1230.5 706 Q1222.8 712.4 1223 709"/>
<path d="M1216 716 Q1217.6 711.6 1225.0 712 Q1228.7 716.3 1227.0 724 Q1221.5 721.2 1220 727"/>
<path d="M1043 557 Q1037.9 566.3 1041 574.0 Q1047.9 577.0 1060 578.0 Q1059.7 584.0 1062 591"/>
<path d="M1070 562 Q1073.6 570.6 1068 579.5 Q1078.7 585.2 1088 583.5 Q1085.8 586.8 1090 597"/>
<path d="M1099 568 Q1102.1 578.7 1097 583.0 Q1101.0 581.9 1110 587.0 Q1113.4 596.9 1112 598"/>
<path d="M1121 572 Q1117.0 583.0 1119 585.0 Q1129.3 588.0 1132 589.0 Q1132.2 589.5 1134 598"/>
<path d="M1143 572 Q1137.4 583.1 1141 585.0 Q1145.9 589.0 1156 589.0 Q1154.6 596.7 1158 598"/>
<path d="M1167 567 Q1167.0 571.4 1165 580.0 Q1170.8 584.2 1183 584.0 Q1179.7 585.8 1185 593"/>
<path d="M1194 559 Q1193.6 570.5 1192 575.0 Q1201.1 574.8 1208 579.0 Q1213.2 582.0 1210 591"/>
<path d="M1219 551 Q1213.2 557.9 1217 569.5 Q1225.0 567.1 1234 573.5 Q1231.8 579.4 1236 588"/>
<path d="M1245 548 Q1244.7 553.8 1243 567.0 Q1255.6 572.9 1271 571.0 Q1276.8 580.1 1273 586"/>
<path d="M1218 718 Q1218.9 726.8 1216 734.0 Q1221.4 731.4 1234 738.0 Q1230.2 748.1 1236 750"/>
<path d="M1196 713 Q1197.0 727.4 1194 732.5 Q1196.2 735.9 1208 736.5 Q1208.8 746.6 1210 752"/>
<path d="M1176 707 Q1173.2 721.7 1174 726.5 Q1175.8 729.0 1186 730.5 Q1189.4 742.3 1188 746"/>
<path d="M1156 703 Q1157.4 714.8 1154 722.5 Q1162.9 728.7 1166 726.5 Q1165.5 736.1 1168 742"/>
<path d="M1138 699 Q1141.0 713.0 1136 719.5 Q1140.2 724.4 1146 723.5 Q1150.6 732.5 1148 740"/>
<path d="M1125 706 Q1129.5 716.6 1131 730 Q1142.5 728.8 1152 725 Q1150.0 746.7 1158 765 Q1153.4 770.6 1137 767"/>
<path d="M1125 761 Q1130.7 771.7 1131 785 Q1144.3 783.5 1152 780 Q1154.3 793.6 1158 799 Q1142.5 803.0 1137 801"/>
</g>
<path d="M1064 740 C1066 748 1070 752 1078 751" stroke="#d8b888" stroke-width="4" fill="none" stroke-linecap="round"/>
</g>
<text x="1047.8" y="519" font-size="64" font-weight="bold" class="sf" textLength="173.5" lengthAdjust="spacingAndGlyphs">GLP-1</text>
<g filter="url(#tsh)">
<text x="106" y="138.5" font-size="45.3" class="sf">BRAIN</text>
<circle cx="76.4" cy="177.0" r="5" class="bul"/>
<text x="129.3" y="189.6" font-size="35.7" class="sf">Synaptic transmission</text>
<circle cx="76.4" cy="220.0" r="5" class="bul"/>
<text x="129.3" y="232.6" font-size="35.7" class="sf">Nerve protection</text>
<circle cx="76.4" cy="263.1" r="5" class="bul"/>
<text x="129.3" y="275.7" font-size="35.7" class="sf">Learning defects</text>
<circle cx="76.4" cy="306.1" r="5" class="bul"/>
<text x="129.3" y="318.7" font-size="35.7" class="sf">Memory</text>
<circle cx="76.4" cy="349.1" r="5" class="bul"/>
<text x="129.3" y="361.7" font-size="35.7" class="sf">The proliferation of neural</text>
<text x="129.3" y="404.8" font-size="35.7" class="sf">stem cells</text>
<circle cx="76.4" cy="435.2" r="5" class="bul"/>
<text x="129.3" y="447.8" font-size="35.7" class="sf">Memory impairment</text>
<circle cx="76.4" cy="478.2" r="5" class="bul"/>
<text x="129.3" y="490.8" font-size="35.7" class="sf">Neuroinflammation</text>
<circle cx="76.4" cy="521.2" r="5" class="bul"/>
<text x="129.3" y="533.8" font-size="35.7" class="sf">Motor function</text>
<circle cx="76.4" cy="564.3" r="5" class="bul"/>
<text x="129.3" y="576.9" font-size="35.7" class="sf">The signal level of satiety</text>
<text x="1413.8" y="38.9" font-size="46.2" class="sf">LIVER</text>
<circle cx="1385.7" cy="69.2" r="4.8" class="bul"/>
<text x="1437.5" y="82.6" font-size="32.2" class="ss">Liver glucose production</text>
<circle cx="1385.7" cy="112.5" r="4.8" class="bul"/>
<text x="1437.5" y="125.9" font-size="32.2" class="ss">Liver fat content</text>
<circle cx="1385.7" cy="155.9" r="4.8" class="bul"/>
<text x="1437.5" y="169.3" font-size="32.2" class="ss">Plasma liver enzyme level</text>
<circle cx="1385.7" cy="199.2" r="4.8" class="bul"/>
<text x="1437.5" y="212.7" font-size="32.2" class="ss">Hepatic steatosis</text>
<text x="1891.7" y="492.5" font-size="45.4" class="sf">PANCREAS</text>
<circle cx="1886.4" cy="526.5" r="5" class="bul"/>
<text x="1937.6" y="538.9" font-size="35.8" class="sf">Insulin synthesis</text>
<circle cx="1886.4" cy="569.8" r="5" class="bul"/>
<text x="1937.6" y="582.2" font-size="35.8" class="sf">Insulin secretion</text>
<circle cx="1886.4" cy="613.1" r="5" class="bul"/>
<text x="1937.6" y="625.5" font-size="35.8" class="sf">Blood glucose</text>
<circle cx="1886.4" cy="656.4" r="5" class="bul"/>
<text x="1937.6" y="668.8" font-size="35.8" class="sf">Islet β cell protection</text>
<circle cx="1886.4" cy="699.7" r="5" class="bul"/>
<text x="1937.6" y="712.1" font-size="35.8" class="sf">Islet β cell proliferation</text>
<text x="48" y="784.8" font-size="44.9" class="sf">HEART</text>
<circle cx="6.4" cy="819.8" r="5" class="bul"/>
<text x="57.1" y="832.4" font-size="35.7" class="sf">Cardiovascular protection</text>
<circle cx="6.4" cy="862.7" r="5" class="bul"/>
<text x="57.1" y="875.3" font-size="35.7" class="sf">Heart rate</text>
<circle cx="6.4" cy="905.6" r="5" class="bul"/>
<text x="57.1" y="918.2" font-size="35.7" class="sf">Anti-inflammatory action</text>
<circle cx="6.4" cy="948.5" r="5" class="bul"/>
<text x="57.1" y="961.1" font-size="35.7" class="sf">Myocardial ischemia injury</text>
<circle cx="6.4" cy="991.4" r="5" class="bul"/>
<text x="57.1" y="1004.0" font-size="35.7" class="sf">Endothelial dysfunction</text>
<circle cx="6.4" cy="1034.3" r="5" class="bul"/>
<text x="57.1" y="1046.9" font-size="35.7" class="sf">Blood lipid</text>
<circle cx="6.4" cy="1077.2" r="5" class="bul"/>
<text x="57.1" y="1089.8" font-size="35.7" class="sf">Atrial natriuretic peptide secretion</text>
<text x="1725.2" y="936.4" font-size="45.8" class="sf">GI TRACK</text>
<circle cx="1697" cy="969.3" r="4.8" class="bul"/>
<text x="1747.4" y="982.7" font-size="32.7" class="ss">Gastric emptying</text>
<circle cx="1697" cy="1011.1" r="4.8" class="bul"/>
<text x="1747.4" y="1024.5" font-size="32.7" class="ss">Gastrointestinal peristalsis</text>
</g>
<path transform="translate(447.2,160.2)" d="M13.4 2.2 L24.4 12.6 L19.0 12.6 L19.0 30.6 L7.8 30.6 L7.8 12.6 L2.4 12.6 Z" class="ha"/>
<path transform="translate(378.8,208.3)" d="M13.4 2.2 L24.4 12.6 L19.0 12.6 L19.0 30.6 L7.8 30.6 L7.8 12.6 L2.4 12.6 Z" class="ha"/>
<path transform="translate(373.5,255.6)" d="M13.4 29.8 L24.4 19.4 L19.0 19.4 L19.0 1.4 L7.8 1.4 L7.8 19.4 L2.4 19.4 Z" class="ha"/>
<path transform="translate(259.3,297.8)" d="M13.4 2.2 L24.4 12.6 L19.0 12.6 L19.0 30.6 L7.8 30.6 L7.8 12.6 L2.4 12.6 Z" class="ha"/>
<path transform="translate(274.0,377.2)" d="M13.4 2.2 L24.4 12.6 L19.0 12.6 L19.0 30.6 L7.8 30.6 L7.8 12.6 L2.4 12.6 Z" class="ha"/>
<path transform="translate(426.3,421.8)" d="M13.4 29.8 L24.4 19.4 L19.0 19.4 L19.0 1.4 L7.8 1.4 L7.8 19.4 L2.4 19.4 Z" class="ha"/>
<path transform="translate(416.9,471.6)" d="M13.4 29.8 L24.4 19.4 L19.0 19.4 L19.0 1.4 L7.8 1.4 L7.8 19.4 L2.4 19.4 Z" class="ha"/>
<path transform="translate(352.2,509.3)" d="M13.4 2.2 L24.4 12.6 L19.0 12.6 L19.0 30.6 L7.8 30.6 L7.8 12.6 L2.4 12.6 Z" class="ha"/>
<path transform="translate(500.4,553.7)" d="M13.4 2.2 L24.4 12.6 L19.0 12.6 L19.0 30.6 L7.8 30.6 L7.8 12.6 L2.4 12.6 Z" class="ha"/>
<path transform="translate(1791.8,55.2)" d="M13.4 29.8 L24.4 19.4 L19.0 19.4 L19.0 1.4 L7.8 1.4 L7.8 19.4 L2.4 19.4 Z" class="ha"/>
<path transform="translate(1670.0,98.1)" d="M13.4 29.8 L24.4 19.4 L19.0 19.4 L19.0 1.4 L7.8 1.4 L7.8 19.4 L2.4 19.4 Z" class="ha"/>
<path transform="translate(1812.0,144.6)" d="M13.4 29.8 L24.4 19.4 L19.0 19.4 L19.0 1.4 L7.8 1.4 L7.8 19.4 L2.4 19.4 Z" class="ha"/>
<path transform="translate(1682.0,186.3)" d="M13.4 29.8 L24.4 19.4 L19.0 19.4 L19.0 1.4 L7.8 1.4 L7.8 19.4 L2.4 19.4 Z" class="ha"/>
<path transform="translate(2181.0,513.2)" d="M13.4 2.2 L24.4 12.6 L19.0 12.6 L19.0 30.6 L7.8 30.6 L7.8 12.6 L2.4 12.6 Z" class="ha"/>
<path transform="translate(2177.3,554.2)" d="M13.4 2.2 L24.4 12.6 L19.0 12.6 L19.0 30.6 L7.8 30.6 L7.8 12.6 L2.4 12.6 Z" class="ha"/>
<path transform="translate(2144.4,602.3)" d="M13.4 29.8 L24.4 19.4 L19.0 19.4 L19.0 1.4 L7.8 1.4 L7.8 19.4 L2.4 19.4 Z" class="ha"/>
<path transform="translate(2244.4,642.6)" d="M13.4 2.2 L24.4 12.6 L19.0 12.6 L19.0 30.6 L7.8 30.6 L7.8 12.6 L2.4 12.6 Z" class="ha"/>
<path transform="translate(2276.0,689.0)" d="M13.4 2.2 L24.4 12.6 L19.0 12.6 L19.0 30.6 L7.8 30.6 L7.8 12.6 L2.4 12.6 Z" class="ha"/>
<path transform="translate(426.5,808.0)" d="M13.4 2.2 L24.4 12.6 L19.0 12.6 L19.0 30.6 L7.8 30.6 L7.8 12.6 L2.4 12.6 Z" class="ha"/>
<path transform="translate(201.6,847.7)" d="M13.4 2.2 L24.4 12.6 L19.0 12.6 L19.0 30.6 L7.8 30.6 L7.8 12.6 L2.4 12.6 Z" class="ha"/>
<path transform="translate(426.5,900.2)" d="M13.4 2.2 L24.4 12.6 L19.0 12.6 L19.0 30.6 L7.8 30.6 L7.8 12.6 L2.4 12.6 Z" class="ha"/>
<path transform="translate(458.8,937.9)" d="M13.4 29.8 L24.4 19.4 L19.0 19.4 L19.0 1.4 L7.8 1.4 L7.8 19.4 L2.4 19.4 Z" class="ha"/>
<path transform="translate(402.3,982.3)" d="M13.4 29.8 L24.4 19.4 L19.0 19.4 L19.0 1.4 L7.8 1.4 L7.8 19.4 L2.4 19.4 Z" class="ha"/>
<path transform="translate(221.8,1026.7)" d="M13.4 29.8 L24.4 19.4 L19.0 19.4 L19.0 1.4 L7.8 1.4 L7.8 19.4 L2.4 19.4 Z" class="ha"/>
<path transform="translate(554.5,1064.5)" d="M13.4 2.2 L24.4 12.6 L19.0 12.6 L19.0 30.6 L7.8 30.6 L7.8 12.6 L2.4 12.6 Z" class="ha"/>
<path transform="translate(2001.7,960.2)" d="M13.4 29.8 L24.4 19.4 L19.0 19.4 L19.0 1.4 L7.8 1.4 L7.8 19.4 L2.4 19.4 Z" class="ha"/>
<path transform="translate(2133.8,999.7)" d="M13.4 29.8 L24.4 19.4 L19.0 19.4 L19.0 1.4 L7.8 1.4 L7.8 19.4 L2.4 19.4 Z" class="ha"/>
</svg>
</body></html>
